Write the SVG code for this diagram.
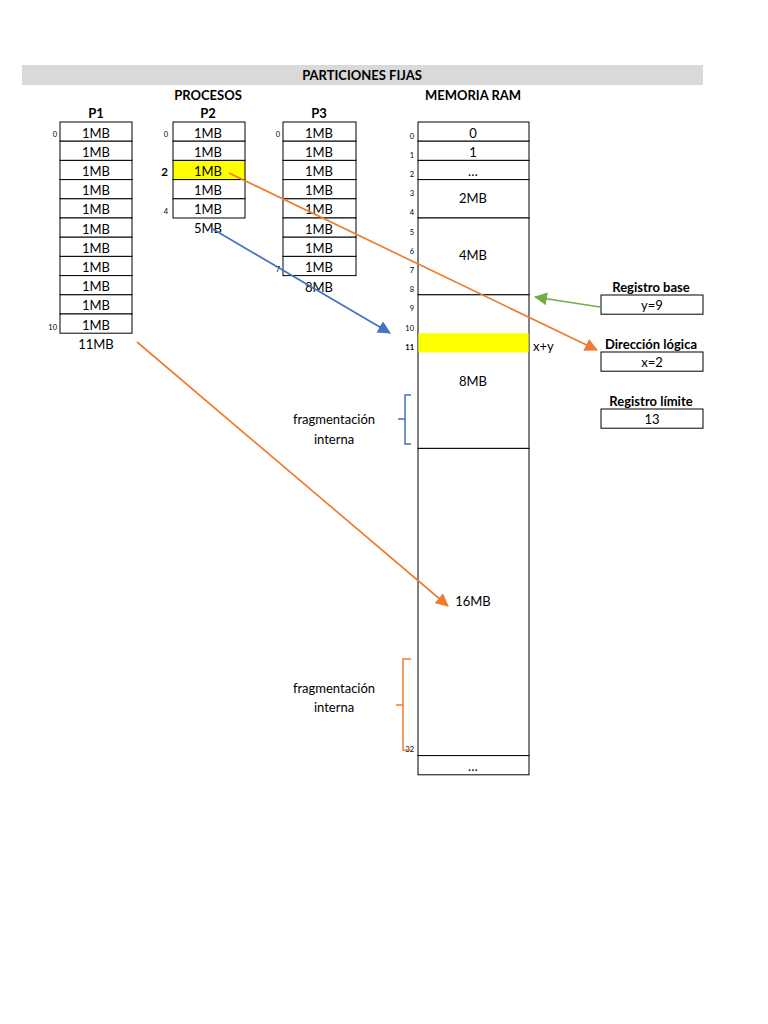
<svg xmlns="http://www.w3.org/2000/svg" width="768" height="1024" viewBox="0 0 768 1024">
<style>
text{font-family:Lato,"Open Sans","Liberation Sans",sans-serif;fill:#000}
.c{font-size:13px;text-anchor:middle}
.b{font-weight:bold}
.h{font-size:13px;font-weight:bold;text-anchor:middle}
.i{font-size:7.5px;text-anchor:end}
.cell{fill:#fff;stroke:#000;stroke-width:1}
.ln{fill:none;stroke-width:1.7}
</style>
<defs>
<marker id="ab" viewBox="0 0 13 13" refX="12" refY="6.5" markerWidth="13" markerHeight="13" orient="auto" markerUnits="userSpaceOnUse"><path d="M0,0 L13,6.5 L0,13 Z" fill="#4472c4"/></marker>
<marker id="ag" viewBox="0 0 13 13" refX="12" refY="6.5" markerWidth="13" markerHeight="13" orient="auto" markerUnits="userSpaceOnUse"><path d="M0,0 L13,6.5 L0,13 Z" fill="#70ad47"/></marker>
<marker id="ao2" viewBox="0 0 13 13" refX="12" refY="6.5" markerWidth="13" markerHeight="13" orient="auto" markerUnits="userSpaceOnUse"><path d="M0,0 L13,6.5 L0,13 Z" fill="#ed7d31"/></marker>
</defs>
<rect x="0" y="0" width="768" height="1024" fill="#fff"/>
<g id="header">
<rect x="22" y="65" width="681" height="20" fill="#d9d9d9"/>
<text class="h" x="362" y="79.5">PARTICIONES FIJAS</text>
<text class="h" x="208" y="99.5">PROCESOS</text>
<text class="h" x="473" y="99.5">MEMORIA RAM</text>
</g>
<g id="P1">
<text class="h" x="96" y="118">P1</text>
<rect class="cell" x="60" y="122" width="72" height="19.2"/>
<rect class="cell" x="60" y="141.2" width="72" height="19.2"/>
<rect class="cell" x="60" y="160.4" width="72" height="19.2"/>
<rect class="cell" x="60" y="179.6" width="72" height="19.2"/>
<rect class="cell" x="60" y="198.8" width="72" height="19.2"/>
<rect class="cell" x="60" y="218" width="72" height="19.2"/>
<rect class="cell" x="60" y="237.2" width="72" height="19.2"/>
<rect class="cell" x="60" y="256.4" width="72" height="19.2"/>
<rect class="cell" x="60" y="275.6" width="72" height="19.2"/>
<rect class="cell" x="60" y="294.8" width="72" height="19.2"/>
<rect class="cell" x="60" y="314" width="72" height="19.2"/>
<text class="c" x="96" y="137.5">1MB</text>
<text class="c" x="96" y="156.7">1MB</text>
<text class="c" x="96" y="175.9">1MB</text>
<text class="c" x="96" y="195.1">1MB</text>
<text class="c" x="96" y="214.3">1MB</text>
<text class="c" x="96" y="233.5">1MB</text>
<text class="c" x="96" y="252.7">1MB</text>
<text class="c" x="96" y="271.9">1MB</text>
<text class="c" x="96" y="291.1">1MB</text>
<text class="c" x="96" y="310.3">1MB</text>
<text class="c" x="96" y="329.5">1MB</text>
<text class="i" x="57" y="137">0</text>
<text class="i" x="57" y="329.5">10</text>
<text class="c" x="96" y="349">11MB</text>
</g>
<g id="P2">
<text class="h" x="208" y="118">P2</text>
<rect class="cell" x="173" y="122" width="72" height="19.2"/>
<rect class="cell" x="173" y="141.2" width="72" height="19.2"/>
<rect class="cell" x="173" y="160.4" width="72" height="19.2" style="fill:#ffff00"/>
<rect class="cell" x="173" y="179.6" width="72" height="19.2"/>
<rect class="cell" x="173" y="198.8" width="72" height="19.2"/>
<text class="c" x="208" y="137.5">1MB</text>
<text class="c" x="208" y="156.7">1MB</text>
<text class="c" x="208" y="175.9">1MB</text>
<text class="c" x="208" y="195.1">1MB</text>
<text class="c" x="208" y="214.3">1MB</text>
<text class="i" x="168" y="137">0</text>
<text class="b" x="168" y="175.5" style="font-size:11.5px;text-anchor:end">2</text>
<text class="i" x="168" y="214">4</text>
<text class="c" x="208" y="233">5MB</text>
</g>
<g id="P3">
<text class="h" x="319" y="118">P3</text>
<rect class="cell" x="283" y="122" width="73" height="19.2"/>
<rect class="cell" x="283" y="141.2" width="73" height="19.2"/>
<rect class="cell" x="283" y="160.4" width="73" height="19.2"/>
<rect class="cell" x="283" y="179.6" width="73" height="19.2"/>
<rect class="cell" x="283" y="198.8" width="73" height="19.2"/>
<rect class="cell" x="283" y="218" width="73" height="19.2"/>
<rect class="cell" x="283" y="237.2" width="73" height="19.2"/>
<rect class="cell" x="283" y="256.4" width="73" height="19.2"/>
<text class="c" x="319" y="137.5">1MB</text>
<text class="c" x="319" y="156.7">1MB</text>
<text class="c" x="319" y="175.9">1MB</text>
<text class="c" x="319" y="195.1">1MB</text>
<text class="c" x="319" y="214.3">1MB</text>
<text class="c" x="319" y="233.5">1MB</text>
<text class="c" x="319" y="252.7">1MB</text>
<text class="c" x="319" y="271.9">1MB</text>
<text class="i" x="280" y="137">0</text>
<text class="i" x="280" y="272">7</text>
<text class="c" x="319" y="291.5">8MB</text>
</g>
<g id="ram">
<rect class="cell" x="418" y="122" width="111" height="19.2"/>
<rect class="cell" x="418" y="141.2" width="111" height="19.2"/>
<rect class="cell" x="418" y="160.4" width="111" height="19.2"/>
<rect class="cell" x="418" y="179.6" width="111" height="38.4"/>
<rect class="cell" x="418" y="218" width="111" height="76.8"/>
<rect class="cell" x="418" y="294.8" width="111" height="153.6"/>
<rect x="418.5" y="333.2" width="110" height="19.2" fill="#ffff00"/>
<rect class="cell" x="418" y="448.4" width="111" height="307.2"/>
<rect class="cell" x="418" y="755.6" width="111" height="19.2"/>
<text class="c" x="473" y="137.5">0</text>
<text class="c" x="473" y="156.7">1</text>
<text class="c" x="473" y="175.9">…</text>
<text class="c" x="473" y="203">2MB</text>
<text class="c" x="473" y="260">4MB</text>
<text class="c" x="473" y="385.5">8MB</text>
<text class="c" x="473" y="605.5">16MB</text>
<text class="c" x="473" y="771">…</text>
<text class="i" x="414" y="138.5">0</text>
<text class="i" x="414" y="157.7">1</text>
<text class="i" x="414" y="176.9">2</text>
<text class="i" x="414" y="196.1">3</text>
<text class="i" x="414" y="215.3">4</text>
<text class="i" x="414" y="234.5">5</text>
<text class="i" x="414" y="253.7">6</text>
<text class="i" x="414" y="272.9">7</text>
<text class="i" x="414" y="292.1">8</text>
<text class="i" x="414" y="311.3">9</text>
<text class="i" x="414" y="330.5">10</text>
<text class="i b" x="414" y="349.7">11</text>
<text class="i" x="414" y="751.5">32</text>
<text x="533" y="350.5" style="font-size:13px">x+y</text>
</g>
<g id="frag1">
<text class="c" x="334" y="424">fragmentación</text>
<text class="c" x="334" y="444">interna</text>
<path d="M411,395 L405,395 L405,419 L398,419 M405,419 L405,444 L411,444" fill="none" stroke="#4472c4" stroke-width="1.5"/>
</g>
<g id="frag2">
<text class="c" x="334" y="693">fragmentación</text>
<text class="c" x="334" y="712">interna</text>
<path d="M411,659 L403,659 L403,705 L396,705 M403,705 L403,750 L411,750" fill="none" stroke="#ed7d31" stroke-width="1.5"/>
</g>
<g id="registro-base">
<text class="h" x="651" y="291.5">Registro base</text>
<rect class="cell" x="601" y="295" width="102" height="19.2"/>
<text class="c" x="652" y="309.5">y=9</text>
</g>
<g id="direccion-logica">
<text class="h" x="651" y="348.5">Dirección lógica</text>
<rect class="cell" x="601" y="352" width="102" height="19.2"/>
<text class="c" x="652" y="366.5">x=2</text>
</g>
<g id="registro-limite">
<text class="h" x="651" y="405.5">Registro límite</text>
<rect class="cell" x="601" y="409" width="102" height="19.2"/>
<text class="c" x="652" y="423.5">13</text>
</g>
<g id="connectors">
<line class="ln" x1="229" y1="173" x2="597" y2="350" stroke="#ed7d31" marker-end="url(#ao2)"/>
<line class="ln" x1="211" y1="228" x2="390" y2="333" stroke="#4472c4" marker-end="url(#ab)"/>
<line class="ln" x1="600" y1="307" x2="535" y2="297" stroke="#70ad47" marker-end="url(#ag)"/>
<line class="ln" x1="137" y1="342" x2="448" y2="606" stroke="#ed7d31" marker-end="url(#ao2)"/>
</g>
</svg>
